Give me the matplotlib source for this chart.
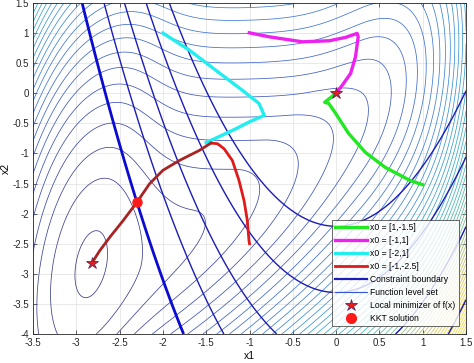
import numpy as np
import matplotlib
matplotlib.use("Agg")
import matplotlib.pyplot as plt
from matplotlib.colors import LinearSegmentedColormap
from matplotlib.lines import Line2D

plt.rcParams["font.family"] = ["Liberation Sans", "DejaVu Sans"]

# ---------------- data ----------------
xlim = [-3.5, 1.5]
ylim = [-4.0, 1.5]
xticks = [-3.5, -3, -2.5, -2, -1.5, -1, -0.5, 0, 0.5, 1, 1.5]
yticks = [-4, -3.5, -3, -2.5, -2, -1.5, -1, -0.5, 0, 0.5, 1, 1.5]

# objective model parameters (lower basin minimizer, shape factors)
fmin_pt = [-2.83, -2.84]
f_params = dict(tilt=0.11, stiff=10.0, sat=0.55, left4=3.0,
                hdrop=0.3, hmid=0.1, hw=0.3,
                r2=4.0, r4=4.0, r0=0.3,
                zc=0.7, z0=-0.3, zk=3.3, zk4=0.0)
level_offset = 0.31
level_step = 1.73
color_top = 75.0

# constraint function levels for g = x1^2 - x2
g_levels_thin = [2.21, 3.31, 4.47, 5.68]
g_level_bound = [7.1]

# paths
green_x = [1.0, 0.856, 0.569, 0.339, 0.144, -0.006, -0.086, -0.132, 0.0]
green_y = [-1.52, -1.45, -1.233, -0.983, -0.667, -0.333, -0.167, -0.15, 0.0]
magenta_x = [-1.003, -0.772, -0.389, -0.082, 0.109, 0.243, 0.255, 0.224, 0.167, 0.071, 0.0]
magenta_y = [1.005, 0.938, 0.855, 0.872, 0.928, 0.995, 0.938, 0.605, 0.328, 0.133, 0.0]
cyan_x = [-2.0, -1.695, -1.39, -1.083, -0.89, -0.83, -1.006, -1.155, -1.5]
cyan_y = [1.0, 0.717, 0.383, 0.05, -0.17, -0.367, -0.478, -0.588, -0.82]
red_x = [-1.0, -1.006, -1.025, -1.063, -1.121, -1.198, -1.293, -1.37, -1.446]
red_y = [-2.5, -2.45, -2.117, -1.783, -1.45, -1.117, -0.922, -0.838, -0.828]
dred_x = [-1.446, -1.58, -1.81, -2.0, -2.155, -2.30, -2.46, -2.615, -2.73, -2.82]
dred_y = [-0.828, -0.95, -1.117, -1.28, -1.505, -1.81, -2.117, -2.395, -2.617, -2.82]

local_min_x = [0.0, -2.82]
local_min_y = [0.0, -2.82]
kkt_x = [-2.30]
kkt_y = [-1.81]

legend_labels = ["x0 = [1,-1.5]", "x0 = [-1,1]", "x0 = [-2,1]", "x0 = [-1,-2.5]",
                 "Constraint boundary", "Function level set",
                 "Local minimizer of f(x)", "KKT solution"]

# ---------------- model surface ----------------
def objective(X1, X2, p):
    w = X2 - fmin_pt[1]
    u = X1 - fmin_pt[0] - p["tilt"] * w
    s = p["sat"]
    left = p["stiff"] * u**2 + p["left4"] * u**4
    right = p["stiff"] * s**2 * (1 - np.exp(-u**2 / s**2))
    S = np.where(u < 0, left, right)
    h = 1 - p["hdrop"] / (1 + np.exp(-(X1 - p["hmid"]) / p["hw"]))
    B = w**2 * h
    d = np.maximum(0, X1 - p["r0"])
    R = p["r2"] * d**2 + p["r4"] * d**4
    z = np.maximum(0, X1 - p["zc"] * X2 - p["z0"])
    Z = p["zk"] * z**2 + p["zk4"] * z**4
    return S + B + R + Z

parula_soft = LinearSegmentedColormap.from_list("parula_soft", [
    "#3b3a86", "#3d55c0", "#3f78d2", "#3a98d0", "#33b0c0",
    "#55bca0", "#98c078", "#d6bd55", "#f2d83a"])

x1 = np.linspace(xlim[0], xlim[1], 500)
x2 = np.linspace(ylim[0], ylim[1], 550)
X1, X2 = np.meshgrid(x1, x2)
F = objective(X1, X2, f_params)
levels = np.arange(F.min() + level_offset, F.max(), level_step)
G = X1**2 - X2

fig = plt.figure(figsize=(4.74, 3.63), dpi=100)
ax = fig.add_axes([33 / 474, 29 / 363, 433 / 474, 331 / 363])

ax.contour(X1, X2, F, levels=levels, cmap=parula_soft, linewidths=0.55,
           vmin=levels[0], vmax=color_top)
ax.contour(X1, X2, G, levels=g_levels_thin, colors="#1c1cb8", linewidths=1.0)
ax.contour(X1, X2, G, levels=g_level_bound, colors="#0a0ad0", linewidths=2.0)

ax.plot(green_x, green_y, color="#22e822", lw=2.4)
ax.plot(magenta_x, magenta_y, color="#ee22ee", lw=2.4)
ax.plot(cyan_x, cyan_y, color="#22eef0", lw=2.4)
ax.plot(red_x, red_y, color="#e01a1a", lw=2.0)
ax.plot(dred_x, dred_y, color="#a82424", lw=2.0)

ax.plot(local_min_x, local_min_y, ls="none", marker="*", ms=9,
        mfc="#e81c1c", mec="#5a2a5a", mew=0.6)
ax.plot(kkt_x, kkt_y, ls="none", marker="o", ms=6.5, mfc="#ff1a1a", mec="#ff1a1a")

ax.set_xlim(xlim)
ax.set_ylim(ylim)
ax.set_xticks(xticks)
ax.set_yticks(yticks)
ax.set_xticklabels([f"{t:g}" for t in xticks])
ax.set_yticklabels([f"{t:g}" for t in yticks])
ax.tick_params(direction="in", top=True, right=True, labelsize=7, length=3,
               width=0.5, colors="#262626", pad=3)
ax.grid(True, color="#e0e0e0", lw=0.5)
ax.set_axisbelow(True)
for sp in ax.spines.values():
    sp.set_color("#262626")
    sp.set_linewidth(0.6)
ax.set_xlabel("x1", fontsize=7.5, labelpad=2)
ax.set_ylabel("x2", fontsize=7.5, labelpad=1)

handles = [
    Line2D([], [], color="#22e822", lw=2.4),
    Line2D([], [], color="#ee22ee", lw=2.4),
    Line2D([], [], color="#22eef0", lw=2.4),
    Line2D([], [], color="#e01a1a", lw=2.0),
    Line2D([], [], color="#1c1cb8", lw=1.6),
    Line2D([], [], color="#3355dd", lw=0.8),
    Line2D([], [], ls="none", marker="*", ms=9, mfc="#e81c1c", mec="#5a2a5a", mew=0.6),
    Line2D([], [], ls="none", marker="o", ms=7, mfc="#ff1a1a", mec="#ff1a1a"),
]
leg = ax.legend(handles, legend_labels, loc="lower right", fontsize=6.2,
                frameon=True, fancybox=False, edgecolor="#262626",
                handlelength=3.7, handletextpad=0.35, borderpad=0.4,
                labelspacing=0.45, borderaxespad=0,
                bbox_to_anchor=(1 - 7 / 433, 8 / 331))
leg.get_frame().set_linewidth(0.6)

fig.savefig("out.png", dpi=100)
